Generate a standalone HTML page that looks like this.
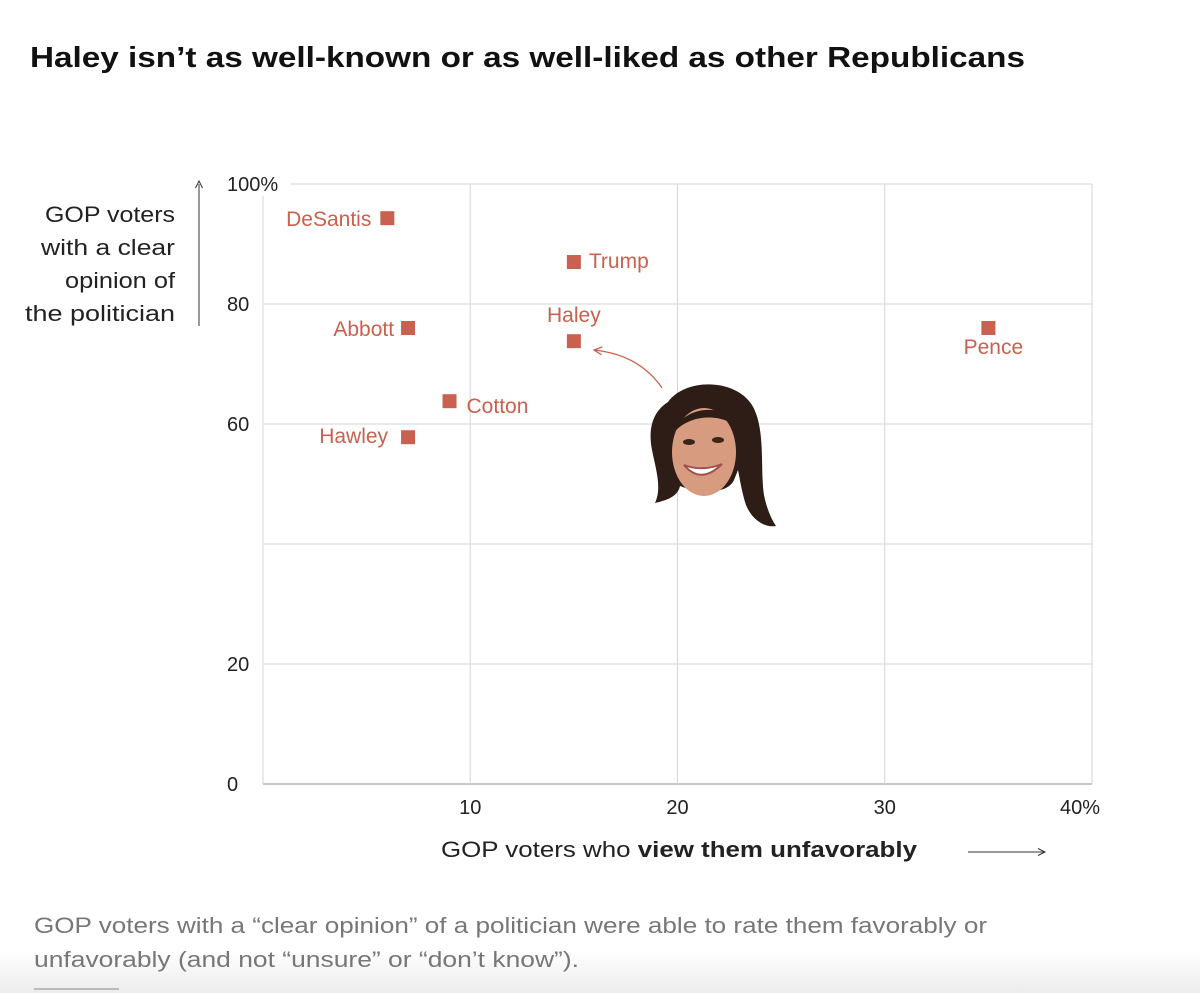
<!DOCTYPE html>
<html><head><meta charset="utf-8">
<style>
html,body{margin:0;padding:0;background:#fff;}
svg{display:block;font-family:"Liberation Sans",sans-serif;}
</style></head>
<body>
<svg id="chart" width="1200" height="993" viewBox="0 0 1200 993" xmlns="http://www.w3.org/2000/svg">
<defs>
<linearGradient id="fade" x1="0" y1="0" x2="0" y2="1">
<stop offset="0" stop-color="#fff"/><stop offset="1" stop-color="#ececec"/>
</linearGradient>
<marker id="ah" markerWidth="10" markerHeight="10" refX="9" refY="5" orient="auto" markerUnits="userSpaceOnUse">
<path d="M1,1 L9,5 L1,9" fill="none" stroke="#c8614f" stroke-width="1.3"/>
</marker>
</defs>
<rect x="0" y="950" width="1200" height="43" fill="url(#fade)"/>
<text x="30" y="67" font-size="29" font-weight="bold" fill="#111" textLength="995" lengthAdjust="spacingAndGlyphs">Haley isn’t as well-known or as well-liked as other Republicans</text>

<g id="grid"></g>

<g font-size="22" fill="#222" text-anchor="end">
<text x="175" y="222" textLength="130" lengthAdjust="spacingAndGlyphs">GOP voters</text>
<text x="175" y="255" textLength="134" lengthAdjust="spacingAndGlyphs">with a clear</text>
<text x="175" y="288" textLength="110" lengthAdjust="spacingAndGlyphs">opinion of</text>
<text x="175" y="321" textLength="150" lengthAdjust="spacingAndGlyphs">the politician</text>
</g>
<line x1="199" y1="326" x2="199" y2="184" stroke="#333" stroke-width="1"/>
<path d="M195.5,188 L199,181 L202.5,188" fill="none" stroke="#333" stroke-width="1"/>

<text x="441" y="857" font-size="22" fill="#222" textLength="476" lengthAdjust="spacingAndGlyphs">GOP voters who <tspan font-weight="bold">view them unfavorably</tspan></text>
<line x1="968" y1="852" x2="1044" y2="852" stroke="#333" stroke-width="1"/>
<path d="M1038,848.5 L1045,852 L1038,855.5" fill="none" stroke="#333" stroke-width="1"/>

<g>
<path d="M668,402 C685,378 735,378 752,405 C766,428 760,470 764,495 C767,510 772,520 776,526 C765,528 752,520 746,505 C742,493 740,480 738,470 L734,480 C728,494 700,494 680,486 C678,496 668,500 655,503 C662,488 656,470 652,450 C648,430 652,412 668,402 Z" fill="#2e1c16"/>
<ellipse cx="704" cy="452" rx="32" ry="44" fill="#d79c80"/>
<path d="M672,435 C680,405 730,400 738,430 C730,415 690,410 672,435 Z" fill="#2e1c16"/>
<ellipse cx="689" cy="442" rx="6" ry="3" fill="#3a2418"/>
<ellipse cx="718" cy="440" rx="6" ry="3" fill="#3a2418"/>
<path d="M684,465 Q701,485 722,464 Q702,472 684,465 Z" fill="#fff" stroke="#a5504a" stroke-width="2"/>
</g>

<path d="M662,388 Q640,355 594,350" fill="none" stroke="#c8614f" stroke-width="1.3" marker-end="url(#ah)"/>

<g id="points"></g>

<text x="34" y="933" font-size="22" fill="#777" textLength="953" lengthAdjust="spacingAndGlyphs">GOP voters with a “clear opinion” of a politician were able to rate them favorably or</text>
<text x="34" y="967" font-size="22" fill="#777" textLength="545" lengthAdjust="spacingAndGlyphs">unfavorably (and not “unsure” or “don’t know”).</text>
<line x1="34" y1="989" x2="119" y2="989" stroke="#bbb" stroke-width="2"/>
</svg>
<script>
const names = ["DeSantis","Trump","Haley","Abbott","Cotton","Hawley","Pence"];
const unfavorable = [6, 15, 15, 7, 9, 7, 35];
const clearOpinion = [94.3, 87, 73.8, 76, 63.8, 57.8, 76];
const xTicks = [10, 20, 30, 40];
const xTickLabels = ["10","20","30","40%"];
const yTicks = [0, 20, 40, 60, 80, 100];
const yTickLabels = ["0","20","","60","80","100%"];

const NS = "http://www.w3.org/2000/svg";
const X0 = 263, X1 = 1092, Y0 = 784, Y1 = 184;
function xs(v){ return X0 + (v/40)*(X1-X0); }
function ys(v){ return Y0 - (v/100)*(Y0-Y1); }
function mk(tag, attrs, parent){ const e=document.createElementNS(NS,tag); for(const k in attrs) e.setAttribute(k,attrs[k]); parent.appendChild(e); return e; }

const grid = document.getElementById('grid');
yTicks.forEach((t,i)=>{
  const y = ys(t);
  const start = t===100 ? 290 : X0;
  const l = mk('line',{x1:start,y1:y,x2:X1,y2:y,stroke:t===0?'#c8c8c8':'#d6d6d6','stroke-width':t===0?2:1},grid);
  
  
  if (yTickLabels[i]) {
    const tx = mk('text',{x:227,y:y+7,'font-size':20,fill:'#222'},grid);
    tx.textContent = yTickLabels[i];
    
    
  }
});
const al = mk('line',{x1:X0,y1:196,x2:X0,y2:Y0,stroke:'#d6d6d6','stroke-width':1},grid);


xTicks.forEach((t,i)=>{
  const x = xs(t);
  const l = mk('line',{x1:x,y1:Y1,x2:x,y2:Y0,stroke:'#d6d6d6','stroke-width':1},grid);
  
  
  const tx = mk('text',{x:x+(t===40?-12:0),y:814,'font-size':20,fill:'#222','text-anchor':'middle'},grid);
  tx.textContent = xTickLabels[i];
  
  
});

const labelPos = {
  DeSantis:{dx:-16,dy:8,anchor:'end'},
  Trump:{dx:15,dy:6,anchor:'start'},
  Haley:{dx:0,dy:-19,anchor:'middle'},
  Abbott:{dx:-14,dy:8,anchor:'end'},
  Cotton:{dx:17,dy:12,anchor:'start'},
  Hawley:{dx:-20,dy:6,anchor:'end'},
  Pence:{dx:5,dy:26,anchor:'middle'}
};
const pts = document.getElementById('points');
names.forEach((n,i)=>{
  const x = xs(unfavorable[i]), y = ys(clearOpinion[i]);
  const r = mk('rect',{x:x-7,y:y-7,width:14,height:14,fill:'#c8614f'},pts);
  
  
  const p = labelPos[n];
  const t = mk('text',{x:x+p.dx,y:y+p.dy,'font-size':21,fill:'#c8614f','text-anchor':p.anchor},pts);
  t.textContent = n;
  
  
});
</script>
</body></html>
